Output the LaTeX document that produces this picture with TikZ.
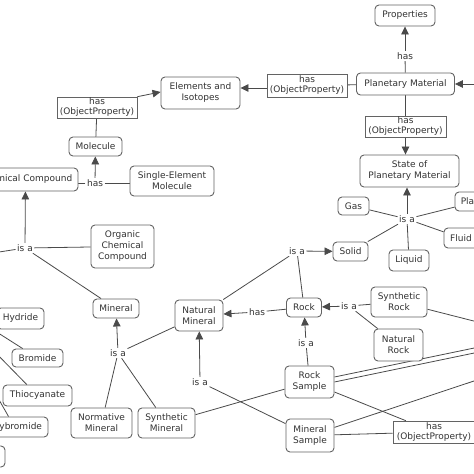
\documentclass[tikz,border=0pt]{standalone}
\usepackage{fontspec}
\setmainfont{DejaVu Sans}
\usetikzlibrary{arrows.meta,backgrounds}
\definecolor{txtc}{HTML}{333333}
\definecolor{bordc}{HTML}{636363}
\definecolor{linec}{HTML}{4A4A4A}
\tikzset{
  concept/.style={draw=bordc, rounded corners=4pt, fill=white, text=txtc, align=center,
    inner sep=1pt, line width=0.9pt, font=\fontsize{9}{11}\selectfont},
  sz/.style 2 args={minimum width=#1pt, minimum height=#2pt},
  lnk/.style={fill=white, text=txtc, inner sep=1.5pt, font=\fontsize{9}{11}\selectfont},
  lnkbox/.style={draw=bordc, fill=white, text=txtc, align=center, inner sep=0.5pt,
    line width=0.6pt, font=\fontsize{9}{10}\selectfont},
  conn/.style={draw=linec, line width=0.8pt},
  arr/.style={conn, -{Triangle[length=8pt,width=7.5pt]}},
}
\begin{document}
\begin{tikzpicture}[x=1pt,y=-1pt]
\useasboundingbox (0,0) rectangle (474,474);
\clip (0,0) rectangle (474,474);
% concepts
\node[concept, sz={60}{21}] (prop) at (405,15.5) {Properties};
\node[concept, sz={98}{22}] (pm) at (405.5,84) {Planetary Material};
\node[lnk] (hasP) at (405,56) {has};
\node[lnkbox, sz={80}{23}] (hop1) at (307,85.5) {has\\(ObjectProperty)};
\node[concept, sz={79}{32}] (ei) at (200.5,93) {Elements and\\Isotopes};
\node[lnkbox, sz={80}{21}] (hop2) at (97,107.5) {has\\(ObjectProperty)};
\node[concept, sz={53}{19}] (mol) at (95.5,146.5) {Molecule};
\node[concept, sz={105}{23}] (cc) at (25.5,179.5) {Chemical Compound};
\node[lnk] (has3) at (95,183) {has};
\node[concept, sz={84}{30}] (sem) at (172,181) {Single-Element\\Molecule};
\node[lnk] (isa1) at (25,248) {is a};
\node[concept, sz={63}{43}] (occ) at (122.5,246.5) {Organic\\Chemical\\Compound};
\node[concept, sz={46}{19}] (min) at (116,308.5) {Mineral};
\node[concept, sz={47}{21}] (hyd) at (20.5,318.5) {Hydride};
\node[concept, sz={51}{18}] (bro) at (37.5,358) {Bromide};
\node[concept, sz={69}{21}] (thio) at (37.5,395.5) {Thiocyanate};
\node[concept, sz={67}{20}] (oxy) at (14.5,427) {Oxybromide};
\node[concept, sz={50}{21}] (blx) at (-20,456.5) {};
\node[lnk] (isa2) at (118,353) {is a};
\node[concept, sz={61}{30}] (norm) at (101.5,423) {Normative\\Mineral};
\node[concept, sz={57}{30}] (synm) at (166.5,423) {Synthetic\\Mineral};
\node[lnk] (isa3) at (200,382) {is a};
\node[concept, sz={48}{31}] (natm) at (199,315.5) {Natural\\Mineral};
\node[lnk] (isa4) at (297,251) {is a};
\node[concept, sz={35}{19}] (solid) at (350.5,251.5) {Solid};
\node[concept, sz={35}{19}] (rock) at (304,307.5) {Rock};
\node[lnk] (has4) at (257,312) {has};
\node[lnk] (isa5) at (349,306) {is a};
\node[concept, sz={56}{30}] (synr) at (399,302) {Synthetic\\Rock};
\node[concept, sz={49}{32}] (natr) at (398.5,345) {Natural\\Rock};
\node[lnk] (isa6) at (306,343) {is a};
\node[concept, sz={49}{32}] (rs) at (309.5,382) {Rock\\Sample};
\node[concept, sz={48}{33}] (ms) at (310,435.5) {Mineral\\Sample};
\node[lnkbox, sz={82}{22}] (hop3) at (434,432) {has\\(ObjectProperty)};
\node[concept, sz={99}{32}] (state) at (409.5,171) {State of\\Planetary Material};
\node[lnkbox, sz={81}{21}] (hop4) at (405.5,126.5) {has\\(ObjectProperty)};
\node[lnk] (isa7) at (407,219) {is a};
\node[concept, sz={31}{18}] (gas) at (353.5,206) {Gas};
\node[concept, sz={44}{19}] (plasma) at (477,201.5) {Plasma};
\node[concept, sz={34}{20}] (fluid) at (461,238) {Fluid};
\node[concept, sz={40}{21}] (liquid) at (409,260.5) {Liquid};
% free ends
\coordinate (fL1) at (-40,258);
\coordinate (fL2) at (-60,296);
\coordinate (fR1) at (490,84);
\coordinate (fRa) at (480,346.8);
\coordinate (fRb) at (480,351.8);
\coordinate (fRc) at (480,379);
\coordinate (fRd) at (480,322.6);
\begin{scope}[on background layer]
\draw[conn] (pm) -- (hasP);
\draw[arr] (hasP) -- (prop);
\draw[conn] (pm) -- (hop1);
\draw[arr] ([yshift=-2.5pt]hop1.west) -- ([yshift=-2.5pt]hop1.west -| ei.east);
\draw[arr] (hop2.north east) -- ([yshift=1pt]ei.west);
\draw[conn] (mol) -- (hop2);
\draw[arr] (has3) -- (mol);
\draw[conn] (has3) -- (has3 -| cc.east);
\draw[conn] (has3) -- (has3 -| sem.west);
\draw[arr] (isa1) -- (cc);
\draw[conn] (fL1) -- (isa1);
\draw[conn] (isa1) -- (occ);
\draw[conn] (isa1) -- (min);
\draw[conn] (fL2) -- (bro);
\draw[conn] (fL2) -- (thio);
\draw[conn] (fL2) -- (oxy);
\draw[arr] (isa2) -- (min);
\draw[conn] (isa2) -- (natm);
\draw[conn] (isa2) -- (norm);
\draw[conn] (isa2) -- (synm);
\draw[arr] (isa3) -- (natm);
\draw[conn] (isa3) -- (ms);
\draw[arr] (isa4) -- (solid);
\draw[conn] (isa4) -- (natm);
\draw[conn] (isa4) -- (rock);
\draw[arr] (has4) -- (natm);
\draw[conn] (rock) -- (has4);
\draw[arr] (isa5) -- (rock);
\draw[conn] (synr) -- (isa5);
\draw[conn] (isa5) -- (natr);
\draw[arr] (isa6) -- (rock);
\draw[conn] (rs) -- (isa6);
\draw[conn] (synm) -- (rs);
\draw[conn] (rs) -- (hop3);
\draw[conn] (ms) -- (hop3);
\draw[conn] ([yshift=5pt]rs.east) -- (fRa);
\draw[conn] (rs.east) -- (fRb);
\draw[conn] (ms) -- (fRc);
\draw[conn] (synr) -- (fRd);
\draw[arr] (fR1) -- (pm);
\draw[conn] (pm) -- (hop4);
\draw[arr] (hop4.south) -- (hop4.south |- state.north);
\draw[arr] (isa7) -- (isa7 |- state.south);
\draw[conn] (gas) -- (isa7);
\draw[conn] (plasma) -- (isa7);
\draw[conn] (fluid) -- (isa7);
\draw[conn] (liquid) -- (isa7);
\draw[conn] (solid) -- (isa7);
\end{scope}
\end{tikzpicture}
\end{document}
